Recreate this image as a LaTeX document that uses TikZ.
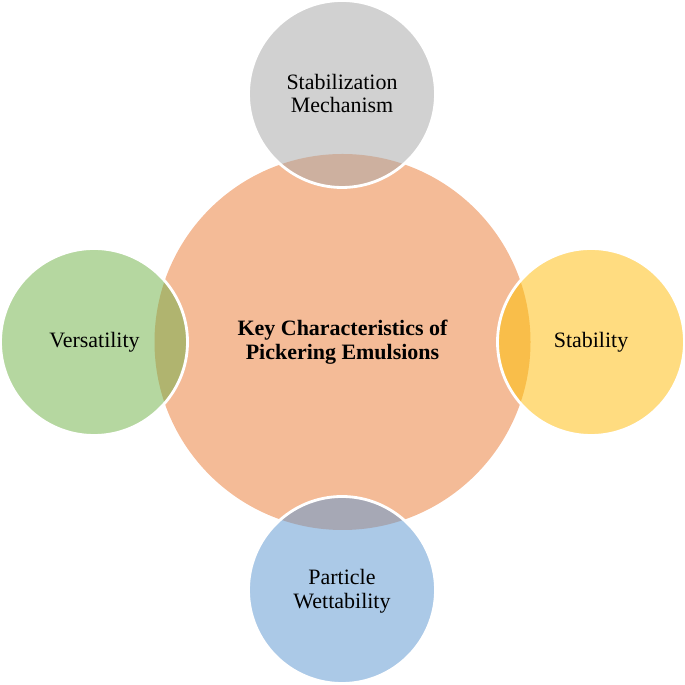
\documentclass[tikz,border=0pt]{standalone}
\usepackage{fontspec}
\setmainfont{Liberation Serif}
\usepackage{xcolor}
\usetikzlibrary{positioning}

\definecolor{coreC}{HTML}{F4BB97}
\definecolor{greyC}{HTML}{D1D1D1}
\definecolor{greyO}{HTML}{CDB09F}
\definecolor{greenC}{HTML}{B5D7A0}
\definecolor{greenO}{HTML}{B0B46F}
\definecolor{yellowC}{HTML}{FFDC80}
\definecolor{yellowO}{HTML}{F9BE4A}
\definecolor{blueC}{HTML}{ABC9E7}
\definecolor{blueO}{HTML}{A6A8B5}

\begin{document}
\begin{tikzpicture}[
  x=0.02cm, y=0.02cm,
  font=\fontsize{12.5}{13.4}\selectfont,
  lbl/.style={align=center, text=black, inner sep=0pt},
  ring/.style={draw=white, line width=1.6pt},
]
\useasboundingbox (0,0) rectangle (685,685);

%─── Central circle ──────────────────────────────────────────────────────────
\fill[coreC] (342.5,343) circle (188);

%─── Satellite circles (fill, overlap with core, white rim) ──────────────────
\foreach \cx/\cy/\fc/\oc in {342/591/greyC/greyO, 94/343/greenC/greenO,
                              591/343/yellowC/yellowO, 342/95/blueC/blueO} {
  \fill[\fc] (\cx,\cy) circle (93.5);
  \begin{scope}
    \clip (342.5,343) circle (188);
    \fill[\oc] (\cx,\cy) circle (93.5);
  \end{scope}
  \draw[ring] (\cx,\cy) circle (93.5);
}

%─── Labels ──────────────────────────────────────────────────────────────────
\node[lbl, font=\fontsize{12.5}{13.4}\selectfont\bfseries] (core) at (342.5,343)
      {Key Characteristics of\\Pickering Emulsions};
\node[lbl] (mech)  at (342,591.5) {Stabilization\\Mechanism};
\node[lbl] (vers)  at (94.5,343)  {Versatility};
\node[lbl] (stab)  at (591,343)   {Stability};
\node[lbl] (wett)  at (342,93.5)  {Particle\\Wettability};

\end{tikzpicture}
\end{document}
